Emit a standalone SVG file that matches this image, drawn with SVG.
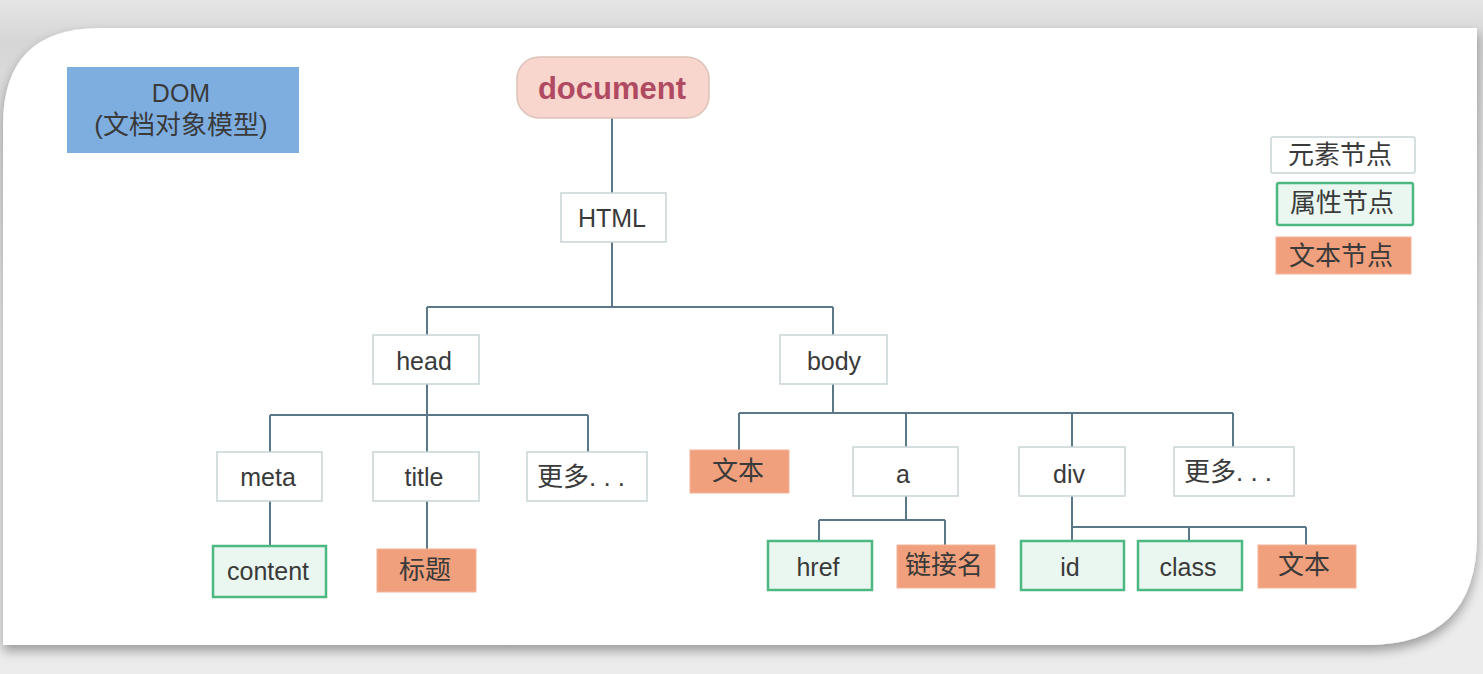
<svg xmlns="http://www.w3.org/2000/svg" width="1483" height="674" viewBox="0 0 1483 674">
<defs>
<linearGradient id="bg" x1="0" y1="0" x2="0" y2="1">
<stop offset="0" stop-color="#e6e6e6"/>
<stop offset="0.06" stop-color="#d6d6d6"/>
<stop offset="0.5" stop-color="#eeeeee"/>
<stop offset="1" stop-color="#ececec"/>
</linearGradient>
<filter id="sh" x="-5%" y="-5%" width="110%" height="115%">
<feGaussianBlur in="SourceAlpha" stdDeviation="6"/>
<feOffset dx="0" dy="6" result="b"/>
<feComponentTransfer><feFuncA type="linear" slope="0.35"/></feComponentTransfer>
<feMerge><feMergeNode/><feMergeNode in="SourceGraphic"/></feMerge>
</filter>
</defs>
<style>
text{font-family:"Liberation Sans","Noto Sans CJK SC",sans-serif;font-size:25px;fill:#3a3a3a;text-anchor:middle;dominant-baseline:central}
.cj{font-size:26px}
.el{fill:#ffffff;stroke:#c9d5d5;stroke-width:1.5}
.at{fill:#eaf6f0;stroke:#4cb882;stroke-width:2.5}
.tx{fill:#f0a07c;stroke:#f3b49a;stroke-width:1}
.ln{fill:none;stroke:#5b7888;stroke-width:2}
</style>
<rect x="0" y="0" width="1483" height="674" fill="url(#bg)"/>
<path d="M3,125 Q3,28 100,28 L1477,28 L1477,535 Q1477,645 1367,645 L3,645 Z" fill="#ffffff" filter="url(#sh)"/>
<g id="connectors">
<path class="ln" d="M612,118 V193 M612,242 V307 M427,307 H833 M427,307 V335 M833,307 V335"/>
<path class="ln" d="M427,384 V452 M270,415 H588 M270,415 V452 M588,415 V452"/>
<path class="ln" d="M270,501 V546 M427,501 V549"/>
<path class="ln" d="M833,384 V413 M739,413 H1233 M739,413 V450 M906,413 V447 M1072,413 V447 M1233,413 V447"/>
<path class="ln" d="M906,496 V520 M819,520 H945 M819,520 V541 M945,520 V545"/>
<path class="ln" d="M1072,496 V541 M1072,527 H1306 M1189,527 V541 M1306,527 V545"/>
</g>
<g id="dom-title"><rect x="67" y="67" width="232" height="86" fill="#7eaee0"/><text x="181" y="93">DOM</text><text class="cj" x="181" y="125">(文档对象模型)</text></g>
<g id="document"><rect x="517" y="57" width="192" height="61" rx="22" fill="#f8d6cd" stroke="#dcc2b8" stroke-width="1.5"/><text x="612" y="88" style="font-size:31px;font-weight:bold;fill:#b04a62">document</text></g>
<g id="html"><rect class="el" x="561" y="193" width="105" height="49"/><text x="612" y="218">HTML</text></g>
<g id="head"><rect class="el" x="373" y="335" width="106" height="49"/><text x="424" y="361">head</text></g>
<g id="body"><rect class="el" x="780" y="335" width="107" height="49"/><text x="834" y="361">body</text></g>
<g id="meta"><rect class="el" x="217" y="452" width="105" height="49"/><text x="268" y="477">meta</text></g>
<g id="title"><rect class="el" x="373" y="452" width="106" height="49"/><text x="424" y="477">title</text></g>
<g id="more-head"><rect class="el" x="527" y="452" width="120" height="49"/><text class="cj" x="581" y="477">更多. . .</text></g>
<g id="content"><rect class="at" x="213" y="546" width="113" height="51"/><text x="268" y="571">content</text></g>
<g id="title-text"><rect class="tx" x="377" y="549" width="99" height="43"/><text class="cj" x="425" y="570">标题</text></g>
<g id="body-text"><rect class="tx" x="690" y="450" width="99" height="43"/><text class="cj" x="738" y="471">文本</text></g>
<g id="a"><rect class="el" x="853" y="447" width="105" height="49"/><text x="903" y="474">a</text></g>
<g id="div"><rect class="el" x="1019" y="447" width="106" height="49"/><text x="1069" y="474">div</text></g>
<g id="more-body"><rect class="el" x="1174" y="447" width="120" height="49"/><text class="cj" x="1228" y="472">更多. . .</text></g>
<g id="href"><rect class="at" x="768" y="541" width="104" height="49"/><text x="818" y="567">href</text></g>
<g id="link-name"><rect class="tx" x="897" y="545" width="98" height="43"/><text class="cj" x="944" y="565">链接名</text></g>
<g id="id"><rect class="at" x="1021" y="541" width="103" height="49"/><text x="1070" y="567">id</text></g>
<g id="class"><rect class="at" x="1138" y="541" width="104" height="49"/><text x="1188" y="567">class</text></g>
<g id="div-text"><rect class="tx" x="1258" y="545" width="98" height="43"/><text class="cj" x="1304" y="565">文本</text></g>
<g id="legend-element"><rect class="el" x="1271" y="137" width="144" height="36" rx="2"/><text class="cj" x="1340" y="155">元素节点</text></g>
<g id="legend-attr"><rect class="at" x="1277" y="183" width="136" height="42" rx="2"/><text class="cj" x="1342" y="203">属性节点</text></g>
<g id="legend-text"><rect class="tx" x="1276" y="237" width="135" height="37"/><text class="cj" x="1341" y="256">文本节点</text></g>
</svg>
